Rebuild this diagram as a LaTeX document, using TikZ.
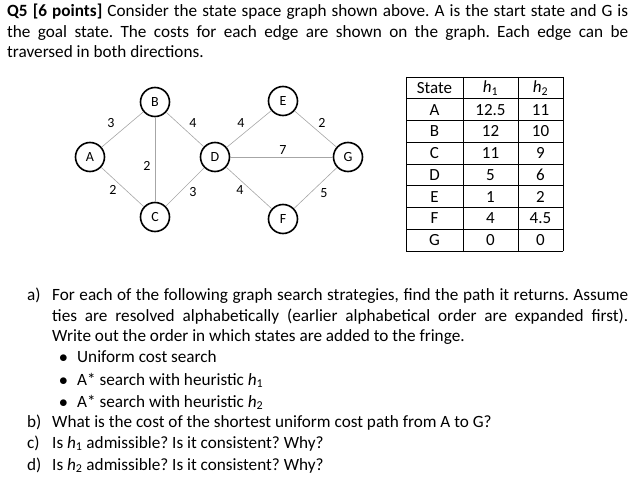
\documentclass[tikz,border=0pt]{standalone}
\usepackage{fontspec}
\setmainfont{Carlito}
\frenchspacing
\newcommand{\hh}[1]{{\itshape h}\textsubscript{#1}}
\begin{document}
\begin{tikzpicture}[x=1pt,y=-1pt,
  st/.style={circle,draw,line width=1.6pt,minimum size=29pt,inner sep=0pt,font=\fontsize{14}{14}\selectfont},
  ed/.style={draw=gray!70,line width=0.6pt},
  el/.style={font=\fontsize{14}{14}\selectfont,inner sep=0pt},
  tx/.style={anchor=base west,inner sep=0pt,font=\fontsize{17.2}{20}\selectfont},
  cell/.style={font=\fontsize{17}{20}\selectfont,inner sep=0pt}]
\useasboundingbox (0,0) rectangle (635,495);
% graph
\node[st] (A) at (90,157) {A};
\node[st] (B) at (155,102) {B};
\node[st] (C) at (155,217) {C};
\node[st] (D) at (215,157) {D};
\node[st] (E) at (283,101) {E};
\node[st] (F) at (283,219) {F};
\node[st] (G) at (348,157) {G};
\draw[ed] (A)--(B); \draw[ed] (A)--(C); \draw[ed] (B)--(C);
\draw[ed] (B)--(D); \draw[ed] (C)--(D); \draw[ed] (D)--(E);
\draw[ed] (D)--(G); \draw[ed] (D)--(F); \draw[ed] (E)--(G); \draw[ed] (F)--(G);
\node[el] (l1) at (111,123) {3};
\node[el] (l2) at (193,123) {4};
\node[el] (l3) at (241,123) {4};
\node[el] (l4) at (322,123) {2};
\node[el] (l5) at (283,150) {7};
\node[el] (l6) at (113,190) {2};
\node[el] (l7) at (147,166) {2};
\node[el] (l8) at (193,192) {3};
\node[el] (l9) at (240,190) {4};
\node[el] (l10) at (324,193) {5};
% table
\foreach \y in {77,98.8,120.5,142.3,164,185.8,207.5,229.3,251}{\draw[line width=0.8pt] (406,\y)--(563,\y);}
\foreach \x in {406,463,518,563}{\draw[line width=0.8pt] (\x,77)--(\x,251);}
\foreach \s/\a/\b [count=\i from 0] in {State/\hh{1}/\hh{2},A/12.5/11,B/12/10,C/11/9,D/5/6,E/1/2,F/4/4.5,G/0/0}{
  \node[cell] (s\i) at (434.5,{87.9+21.75*\i}) {\s};
  \node[cell] (a\i) at (490.5,{87.9+21.75*\i}) {\a};
  \node[cell] (b\i) at (540.5,{87.9+21.75*\i}) {\b};
}
% text
\node[tx] (t1) at (7,17) {\hbox to 621pt{\textbf{Q5 [6 points]} Consider the state space graph shown above. A is the start state and G is}};
\node[tx] (t2) at (7,38) {\hbox to 621pt{the goal state. The costs for each edge are shown on the graph. Each edge can be}};
\node[tx] (t3) at (7,58) {traversed in both directions.};
\node[tx] (qa) at (27,300) {a)};
\node[tx] (a1) at (52,300) {\hbox to 576pt{For each of the following graph search strategies, find the path it returns. Assume}};
\node[tx] (a2) at (52,321) {\hbox to 576pt{ties are resolved alphabetically (earlier alphabetical order are expanded first).}};
\node[tx] (a3) at (52,341) {Write out the order in which states are added to the fringe.};
\node[tx] (d1) at (59,362) {$\bullet$};
\node[tx] (u1) at (77,362) {Uniform cost search};
\node[tx] (d2) at (59,385) {$\bullet$};
\node[tx] (u2) at (77,385) {A* search with heuristic \hh{1}};
\node[tx] (d3) at (59,407) {$\bullet$};
\node[tx] (u3) at (77,407) {A* search with heuristic \hh{2}};
\node[tx] (qb) at (27,427) {b)};
\node[tx] (b1) at (52,427) {What is the cost of the shortest uniform cost path from A to G?};
\node[tx] (qc) at (27,448) {c)};
\node[tx] (c1) at (52,448) {Is \hh{1} admissible? Is it consistent? Why?};
\node[tx] (qd) at (27,470) {d)};
\node[tx] (dd1) at (52,470) {Is \hh{2} admissible? Is it consistent? Why?};
\end{tikzpicture}
\end{document}
